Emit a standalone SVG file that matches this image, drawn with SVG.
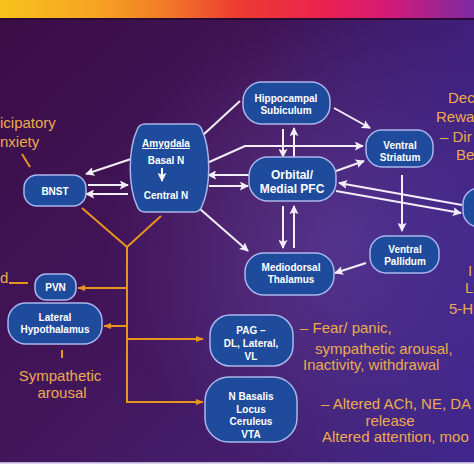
<svg xmlns="http://www.w3.org/2000/svg" width="474" height="474" viewBox="0 0 474 474">
<defs>
<linearGradient id="bar" x1="0" y1="0" x2="1" y2="0">
<stop offset="0" stop-color="#f8c21c"/>
<stop offset="0.2" stop-color="#f6a422"/>
<stop offset="0.35" stop-color="#f27a28"/>
<stop offset="0.5" stop-color="#ec3c30"/>
<stop offset="0.68" stop-color="#ea2250"/>
<stop offset="0.82" stop-color="#d41a78"/>
<stop offset="1" stop-color="#7c2aa0"/>
</linearGradient>
<linearGradient id="bg" x1="0" y1="0" x2="1" y2="1">
<stop offset="0" stop-color="#3a0d46"/>
<stop offset="0.5" stop-color="#43165c"/>
<stop offset="1" stop-color="#46257e"/>
</linearGradient>
<radialGradient id="glow" cx="0.72" cy="0.52" r="0.5">
<stop offset="0" stop-color="#6a4aa8" stop-opacity="0.55"/>
<stop offset="1" stop-color="#6a4aa8" stop-opacity="0"/>
</radialGradient>
<linearGradient id="rt" x1="0" y1="0" x2="1" y2="0">
<stop offset="0.55" stop-color="#3030a0" stop-opacity="0"/>
<stop offset="1" stop-color="#3a2aa0" stop-opacity="0.45"/>
</linearGradient>
<marker id="aw" viewBox="0 0 10 10" refX="9" refY="5" markerWidth="9" markerHeight="9" markerUnits="userSpaceOnUse" orient="auto">
<path d="M0,0 L10,5 L0,10 L2,5 Z" fill="#f3eef8"/>
</marker>
<marker id="ao" viewBox="0 0 10 10" refX="9" refY="5" markerWidth="8" markerHeight="8" markerUnits="userSpaceOnUse" orient="auto">
<path d="M0,1 L10,5 L0,9 Z" fill="#ea9420"/>
</marker>
</defs>
<style>
.node{fill:#1e4b9c;stroke:#a9b6ec;stroke-width:1.5}
.nt{font-family:"Liberation Sans",Arial,sans-serif;font-weight:bold;font-size:10px;fill:#ffffff;text-anchor:middle}
.big{font-size:12px}
.wl{stroke:#f3eef8;stroke-width:2;fill:none}
.ol{stroke:#ea9420;stroke-width:2;fill:none}
.lb{font-family:"Liberation Sans",Arial,sans-serif;font-size:15px;fill:#ebab4e}
</style>
<rect x="0" y="0" width="474" height="474" fill="#ffffff"/>
<rect x="0" y="0" width="474" height="463" fill="url(#bg)"/>
<rect x="0" y="0" width="474" height="463" fill="url(#glow)"/>
<rect x="0" y="0" width="474" height="463" fill="url(#rt)"/>
<rect x="0" y="0" width="474" height="18" fill="url(#bar)"/>
<rect x="0" y="18" width="474" height="2" fill="#2a0a32"/>
<rect x="0" y="462" width="474" height="1.5" fill="#b8a8d8"/>

<g id="connectors">
<line class="wl" x1="203" y1="135" x2="240" y2="101"/>
<polyline class="wl" points="207,163 245,146 363,146" marker-end="url(#aw)"/>
<line class="wl" x1="249" y1="175" x2="208" y2="175" marker-end="url(#aw)"/>
<line class="wl" x1="209" y1="186" x2="248" y2="186" marker-end="url(#aw)"/>
<line class="wl" x1="88" y1="185" x2="128" y2="185" marker-end="url(#aw)"/>
<line class="wl" x1="128" y1="194" x2="86" y2="194" marker-end="url(#aw)"/>
<line class="wl" x1="131" y1="159" x2="86" y2="174" marker-end="url(#aw)"/>
<line class="wl" x1="200" y1="209" x2="248" y2="251" marker-end="url(#aw)"/>
<line class="wl" x1="283" y1="129" x2="283" y2="157" marker-end="url(#aw)"/>
<line class="wl" x1="294" y1="157" x2="294" y2="128" marker-end="url(#aw)"/>
<line class="wl" x1="283" y1="206" x2="283" y2="248" marker-end="url(#aw)"/>
<line class="wl" x1="294" y1="248" x2="294" y2="206" marker-end="url(#aw)"/>
<line class="wl" x1="334" y1="108" x2="370" y2="128" marker-end="url(#aw)"/>
<line class="wl" x1="336" y1="171" x2="364" y2="161" marker-end="url(#aw)"/>
<line class="wl" x1="462" y1="205" x2="339" y2="183" marker-end="url(#aw)"/>
<line class="wl" x1="336" y1="191" x2="461" y2="213" marker-end="url(#aw)"/>
<line class="wl" x1="402" y1="175" x2="402" y2="231" marker-end="url(#aw)"/>
<line class="wl" x1="366" y1="263" x2="335" y2="273" marker-end="url(#aw)"/>

<line class="ol" x1="82" y1="208" x2="127" y2="247"/>
<line class="ol" x1="161" y1="216" x2="127" y2="247"/>
<line class="ol" x1="127" y1="247" x2="127" y2="402"/>
<line class="ol" x1="127" y1="288" x2="78" y2="288" marker-end="url(#ao)"/>
<line class="ol" x1="127" y1="326" x2="104" y2="326" marker-end="url(#ao)"/>
<line class="ol" x1="126" y1="339" x2="203" y2="339" marker-end="url(#ao)"/>
<line class="ol" x1="126" y1="402" x2="203" y2="402" marker-end="url(#ao)"/>
<line class="ol" x1="9" y1="283" x2="28" y2="283"/>
<line class="ol" x1="62" y1="350" x2="62" y2="358"/>
<line class="ol" x1="22" y1="154" x2="30" y2="167"/>
</g>

<g id="hippocampal">
<rect class="node" x="243" y="82" width="87" height="42" rx="19"/>
<text class="nt" x="286" y="102">Hippocampal</text>
<text class="nt" x="286" y="114">Subiculum</text>
</g>
<g id="ventral-striatum">
<rect class="node" x="366" y="130" width="67" height="37" rx="16"/>
<text class="nt" x="400" y="149">Ventral</text>
<text class="nt" x="400" y="161">Striatum</text>
</g>
<g id="pfc">
<rect class="node" x="249" y="157" width="87" height="44" rx="19"/>
<text class="nt big" x="292" y="179">Orbital/</text>
<text class="nt big" x="292" y="193">Medial PFC</text>
</g>
<g id="md-thalamus">
<rect class="node" x="245" y="253" width="89" height="42" rx="19"/>
<text class="nt" x="291" y="271">Mediodorsal</text>
<text class="nt" x="291" y="283">Thalamus</text>
</g>
<g id="ventral-pallidum">
<rect class="node" x="370" y="236" width="69" height="37" rx="16"/>
<text class="nt" x="405" y="253">Ventral</text>
<text class="nt" x="405" y="265">Pallidum</text>
</g>
<g id="right-node">
<rect class="node" x="463" y="188" width="40" height="39" rx="16"/>
</g>
<g id="amygdala">
<path class="node" d="M145,124 L194,124 Q200,124 202,130 C211,150 211,186 202,206 Q200,212 194,212 L145,212 Q139,212 137,206 C128,186 128,150 137,130 Q139,124 145,124 Z"/>
<text class="nt" x="166" y="147" font-size="12.5" text-decoration="underline">Amygdala</text>
<text class="nt" x="166" y="164">Basal N</text>
<line x1="162" y1="168" x2="162" y2="181" stroke="#ffffff" stroke-width="2" marker-end="url(#aw)"/>
<text class="nt" x="166" y="199">Central N</text>
</g>
<g id="bnst">
<rect class="node" x="24" y="175" width="62" height="31" rx="13"/>
<text class="nt" x="55" y="195">BNST</text>
</g>
<g id="pvn">
<rect class="node" x="35" y="274" width="41" height="26" rx="11"/>
<text class="nt" x="55.5" y="291">PVN</text>
</g>
<g id="lateral-hypothalamus">
<rect class="node" x="8" y="303" width="94" height="41" rx="18"/>
<text class="nt" x="55" y="321">Lateral</text>
<text class="nt" x="55" y="333">Hypothalamus</text>
</g>
<g id="pag">
<rect class="node" x="210" y="315" width="83" height="51" rx="20"/>
<text class="nt" x="251" y="334">PAG –</text>
<text class="nt" x="251" y="347">DL, Lateral,</text>
<text class="nt" x="251" y="360">VL</text>
</g>
<g id="n-basalis">
<rect class="node" x="205" y="377" width="92" height="65" rx="24"/>
<text class="nt" x="251" y="400">N Basalis</text>
<text class="nt" x="251" y="413">Locus</text>
<text class="nt" x="251" y="425">Ceruleus</text>
<text class="nt" x="251" y="438">VTA</text>
</g>

<g id="labels">
<text class="lb" x="0" y="128">icipatory</text>
<text class="lb" x="0" y="147">nxiety</text>
<text class="lb" x="0" y="283">d</text>
<text class="lb" x="60" y="381" text-anchor="middle">Sympathetic</text>
<text class="lb" x="62" y="398" text-anchor="middle">arousal</text>
<text class="lb" x="448" y="103">Dec</text>
<text class="lb" x="436" y="122">Rewa</text>
<text class="lb" x="440" y="142">– Dir</text>
<text class="lb" x="456" y="160">Be</text>
<text class="lb" x="468" y="276">I</text>
<text class="lb" x="465" y="293">L</text>
<text class="lb" x="449" y="314">5-H</text>
<text class="lb" x="300" y="333">– Fear/ panic,</text>
<text class="lb" x="315" y="354">sympathetic arousal,</text>
<text class="lb" x="303" y="370">Inactivity, withdrawal</text>
<text class="lb" x="321" y="409">– Altered ACh, NE, DA</text>
<text class="lb" x="390" y="426" text-anchor="middle">release</text>
<text class="lb" x="322" y="442">Altered attention, moo</text>
</g>
</svg>
